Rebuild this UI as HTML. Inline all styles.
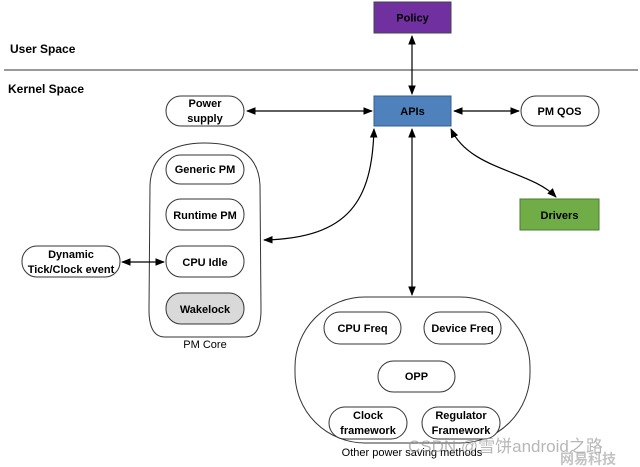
<!DOCTYPE html>
<html><head><meta charset="utf-8"><style>
html,body{margin:0;padding:0;background:#fff;}
svg{display:block;font-family:"Liberation Sans","Noto Sans CJK SC",sans-serif;}
.b{font-weight:bold;font-size:11px;fill:#000;}
</style></head><body>
<svg width="640" height="467" viewBox="0 0 640 467" xmlns="http://www.w3.org/2000/svg">
<defs>
<marker id="a" viewBox="0 0 10 10" refX="9" refY="5" markerWidth="8" markerHeight="8" orient="auto-start-reverse"><path d="M0,1 L10,5 L0,9 z" fill="#000"/></marker>
</defs>
<rect width="640" height="467" fill="#fff"/>
<line x1="4" y1="70" x2="638" y2="70" stroke="#333" stroke-width="1"/>
<text x="10" y="53" class="b" style="font-size:12px">User Space</text>
<text x="8" y="93" class="b" style="font-size:12px">Kernel Space</text>

<rect x="374" y="2" width="77" height="31" fill="#7030a0" stroke="#444"/>
<text x="412.5" y="21.5" class="b" text-anchor="middle">Policy</text>
<rect x="374" y="96" width="77" height="30" fill="#4f81bd" stroke="#2f5f8f"/>
<text x="412.5" y="115" class="b" text-anchor="middle">APIs</text>
<rect x="520" y="199" width="79" height="31" fill="#70ad47" stroke="#4a7a30"/>
<text x="559.5" y="219" class="b" text-anchor="middle">Drivers</text>

<g fill="#fff" stroke="#333" stroke-width="1">
<rect x="521" y="96" width="78" height="30" rx="15"/>
<rect x="166" y="96" width="78" height="30" rx="15"/>
<path d="M165,337 Q149,337 149,310 L150,185 Q152,143 205,143 Q258,143 260,185 L261,310 Q261,337 245,337 Z"/>
<rect x="166" y="155" width="78" height="29" rx="14.5"/>
<rect x="166" y="199" width="78" height="31" rx="15"/>
<rect x="166" y="246" width="78" height="31" rx="15"/>
<rect x="166" y="293" width="78" height="31" rx="15" fill="#d9d9d9"/>
<rect x="22" y="246" width="98" height="31" rx="15"/>
<rect x="295" y="297" width="235" height="146" rx="70"/>
<rect x="324" y="312" width="77" height="32" rx="16"/>
<rect x="424" y="312" width="77" height="32" rx="16"/>
<rect x="378" y="361" width="77" height="31" rx="15.5"/>
<rect x="329" y="407" width="78" height="32" rx="16"/>
<rect x="422" y="407" width="78" height="32" rx="16"/>
</g>
<text x="559.5" y="115" class="b" text-anchor="middle">PM QOS</text>
<text x="205" y="107" class="b" text-anchor="middle">Power</text>
<text x="205" y="122" class="b" text-anchor="middle">supply</text>
<text x="205" y="173" class="b" text-anchor="middle">Generic PM</text>
<text x="205" y="219" class="b" text-anchor="middle">Runtime PM</text>
<text x="205" y="266" class="b" text-anchor="middle">CPU Idle</text>
<text x="205" y="313" class="b" text-anchor="middle">Wakelock</text>
<text x="205" y="348" font-size="11" text-anchor="middle">PM Core</text>
<text x="71" y="258" class="b" text-anchor="middle">Dynamic</text>
<text x="71" y="273" class="b" text-anchor="middle">Tick/Clock event</text>
<text x="362.5" y="332" class="b" text-anchor="middle">CPU Freq</text>
<text x="462.5" y="332" class="b" text-anchor="middle">Device Freq</text>
<text x="416.5" y="380" class="b" text-anchor="middle">OPP</text>
<text x="368" y="419" class="b" text-anchor="middle">Clock</text>
<text x="368" y="434" class="b" text-anchor="middle">framework</text>
<text x="461" y="419" class="b" text-anchor="middle">Regulator</text>
<text x="461" y="434" class="b" text-anchor="middle">Framework</text>
<text x="412" y="456" font-size="11" text-anchor="middle">Other power saving methods</text>

<g stroke="#000" stroke-width="1.2" fill="none">
<line x1="412" y1="36" x2="412" y2="94" marker-start="url(#a)" marker-end="url(#a)"/>
<line x1="247" y1="111" x2="372" y2="111" marker-start="url(#a)" marker-end="url(#a)"/>
<line x1="454" y1="111" x2="519" y2="111" marker-start="url(#a)" marker-end="url(#a)"/>
<line x1="412" y1="129" x2="412" y2="295" marker-start="url(#a)" marker-end="url(#a)"/>
<path d="M374,129 C372,200 350,238 264,240" marker-start="url(#a)" marker-end="url(#a)"/>
<path d="M451,129 C470,170 530,170 556,197" marker-start="url(#a)" marker-end="url(#a)"/>
<line x1="122" y1="262" x2="164" y2="262" marker-start="url(#a)" marker-end="url(#a)"/>
</g>
<text x="408" y="452" font-size="17" fill="#999" fill-opacity="0.7">CSDN @雪饼android之路</text>
<text x="560" y="464" font-size="14" font-weight="bold" fill="#aaa" fill-opacity="0.7">网易科技</text>
</svg>
</body></html>
